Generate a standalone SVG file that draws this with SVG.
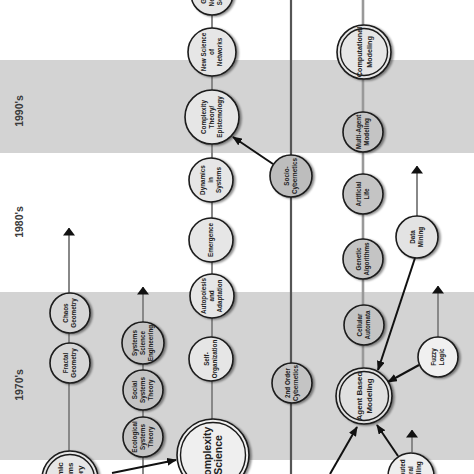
<svg xmlns="http://www.w3.org/2000/svg" width="474" height="474" viewBox="0 0 474 474">
<defs>
<style>
.band{fill:#d3d3d3}
.dec{font-family:"Liberation Sans",Arial,sans-serif;font-weight:bold;font-size:10.5px;fill:#3a3a3a;text-anchor:middle}
.n{stroke:#1a1a1a;stroke-width:1.6;filter:url(#sh)}
.lt{fill:#e6e6e6}
.md{fill:#d6d6d6}
.dk{fill:#c4c4c4}
.ring{fill:none;stroke:#1a1a1a;stroke-width:1.4}
.t{font-family:"Liberation Sans",Arial,sans-serif;font-weight:bold;font-size:6.3px;fill:#222;text-anchor:middle}
.col{fill:none;stroke:#888;stroke-width:2}
.arr{fill:none;stroke:#111;stroke-width:2}
</style>
<filter id="sh" x="-30%" y="-30%" width="160%" height="160%">
<feDropShadow dx="2" dy="1" stdDeviation="1.3" flood-color="#000" flood-opacity="0.45"/>
</filter>
<marker id="ah" viewBox="0 0 10 8" refX="9" refY="4" markerWidth="10" markerHeight="8" markerUnits="userSpaceOnUse" orient="auto">
<path d="M0,0 L10,4 L0,8 z" fill="#111"/>
</marker>
<marker id="up" viewBox="0 0 8 12" refX="7.5" refY="6" markerWidth="8" markerHeight="12" markerUnits="userSpaceOnUse" orient="auto">
<path d="M0,0 L8,6 L0,12 z" fill="#111"/>
</marker>
</defs>
<rect width="474" height="474" fill="#fff"/>
<rect class="band" x="0" y="60" width="474" height="93"/>
<rect class="band" x="0" y="292" width="474" height="168"/>
<text class="dec" transform="translate(23,111) rotate(-90)">1990's</text>
<text class="dec" transform="translate(23,222) rotate(-90)">1980's</text>
<text class="dec" transform="translate(23,385) rotate(-90)">1970's</text>

<g id="connectors">
<path class="col" d="M69,474 V228" marker-end="url(#up)"/>
<path class="col" d="M143,474 V287" marker-end="url(#up)"/>
<path class="col" d="M212,0 V474"/>
<path d="M291,0 V474" fill="none" stroke="#555" stroke-width="2.2"/>
<path d="M363,0 V396" fill="none" stroke="#999" stroke-width="2.6"/>
<path class="col" d="M417,216 V166" marker-end="url(#up)"/>
<path class="col" d="M438,337 V286" marker-end="url(#up)"/>
<path class="col" d="M412,452 V430" marker-end="url(#up)"/>
<path class="arr" d="M273,164 L233,137" marker-end="url(#ah)"/>
<path class="arr" d="M415,258 L378,370" marker-end="url(#ah)"/>
<path class="arr" d="M419,365 L388,382" marker-end="url(#ah)"/>
<path class="arr" d="M330,474 L357,427" marker-end="url(#ah)"/>
<path class="arr" d="M398,456 L377,425" marker-end="url(#ah)"/>
<path class="arr" d="M112,473 L176,460" marker-end="url(#ah)"/>
</g>

<g id="global-network-society">
<circle class="n lt" cx="212" cy="-6" r="21"/>
<text class="t" transform="translate(212,-6) rotate(-90)"><tspan x="0" y="-6">Global</tspan><tspan x="0" y="2.2">Network</tspan><tspan x="0" y="10.4">Society</tspan></text>
</g>
<g id="new-science-of-networks">
<circle class="n lt" cx="212" cy="52" r="24"/>
<text class="t" transform="translate(212,52) rotate(-90)"><tspan x="0" y="-6">New Science</tspan><tspan x="0" y="2.2">of</tspan><tspan x="0" y="10.4">Networks</tspan></text>
</g>
<g id="complexity-theory">
<circle class="n lt" cx="212" cy="117" r="27"/>
<text class="t" transform="translate(212,117) rotate(-90)"><tspan x="0" y="-6">Complexity</tspan><tspan x="0" y="2.2">Theory/</tspan><tspan x="0" y="10.4">Epistemology</tspan></text>
</g>
<g id="dynamics-in-systems">
<circle class="n lt" cx="211" cy="180" r="22"/>
<text class="t" transform="translate(211,180) rotate(-90)"><tspan x="0" y="-6">Dynamics</tspan><tspan x="0" y="2.2">in</tspan><tspan x="0" y="10.4">Systems</tspan></text>
</g>
<g id="emergence">
<circle class="n lt" cx="211" cy="240" r="22"/>
<text class="t" transform="translate(211,240) rotate(-90)"><tspan x="0" y="2.2">Emergence</tspan></text>
</g>
<g id="autopoiesis">
<circle class="n lt" cx="212" cy="296" r="22"/>
<text class="t" transform="translate(212,296) rotate(-90)"><tspan x="0" y="-6">Autopoiesis</tspan><tspan x="0" y="2.2">and</tspan><tspan x="0" y="10.4">Adaptation</tspan></text>
</g>
<g id="self-organization">
<circle class="n lt" cx="211" cy="359" r="22"/>
<text class="t" transform="translate(211,359) rotate(-90)"><tspan x="0" y="-1.8">Self-</tspan><tspan x="0" y="6.4">Organization</tspan></text>
</g>
<g id="complexity-science">
<circle class="n" fill="#efefef" cx="213" cy="455" r="36"/>
<circle class="ring" cx="213" cy="455" r="32.5"/>
<text class="t" style="font-size:10.5px" transform="translate(213,455) rotate(-90)"><tspan x="0" y="-2">Complexity</tspan><tspan x="0" y="9">Science</tspan></text>
</g>

<g id="chaos-geometry">
<circle class="n md" cx="70" cy="313" r="20"/>
<text class="t" transform="translate(70,313) rotate(-90)"><tspan x="0" y="-1.8">Chaos</tspan><tspan x="0" y="6.4">Geometry</tspan></text>
</g>
<g id="fractal-geometry">
<circle class="n md" cx="70" cy="363" r="20"/>
<text class="t" transform="translate(70,363) rotate(-90)"><tspan x="0" y="-1.8">Fractal</tspan><tspan x="0" y="6.4">Geometry</tspan></text>
</g>
<g id="dynamic-systems-theory">
<circle class="n lt" cx="70" cy="479" r="28"/>
<circle class="ring" cx="70" cy="479" r="24.5"/>
<text class="t" style="font-size:8px" transform="translate(70,479) rotate(-90)"><tspan x="0" y="-7">Dynamic</tspan><tspan x="0" y="3">Systems</tspan><tspan x="0" y="13">Theory</tspan></text>
</g>

<g id="systems-science-engineering">
<circle class="n dk" cx="143" cy="343" r="21"/>
<text class="t" transform="translate(143,343) rotate(-90)"><tspan x="0" y="-6">Systems</tspan><tspan x="0" y="2.2">Science</tspan><tspan x="0" y="10.4">Engineering</tspan></text>
</g>
<g id="social-systems-theory">
<circle class="n dk" cx="143" cy="390" r="20"/>
<text class="t" transform="translate(143,390) rotate(-90)"><tspan x="0" y="-6">Social</tspan><tspan x="0" y="2.2">Systems</tspan><tspan x="0" y="10.4">Theory</tspan></text>
</g>
<g id="ecological-systems-theory">
<circle class="n dk" cx="143" cy="437" r="20"/>
<text class="t" transform="translate(143,437) rotate(-90)"><tspan x="0" y="-6">Ecological</tspan><tspan x="0" y="2.2">Systems</tspan><tspan x="0" y="10.4">Theory</tspan></text>
</g>

<g id="socio-cybernetics">
<circle class="n" fill="#bdbdbd" cx="291" cy="176" r="21"/>
<text class="t" transform="translate(291,176) rotate(-90)"><tspan x="0" y="-1.8">Socio-</tspan><tspan x="0" y="6.4">Cybernetics</tspan></text>
</g>
<g id="second-order-cybernetics">
<circle class="n dk" cx="292" cy="383" r="20"/>
<text class="t" transform="translate(292,383) rotate(-90)"><tspan x="0" y="-1.8">2nd Order</tspan><tspan x="0" y="6.4">Cybernetics</tspan></text>
</g>

<g id="computational-modeling">
<circle class="n lt" cx="364" cy="52" r="27"/>
<circle class="ring" cx="364" cy="52" r="23.5"/>
<text class="t" style="font-size:7.2px" transform="translate(364,52) rotate(-90)"><tspan x="0" y="-2">Computational</tspan><tspan x="0" y="7.5">Modeling</tspan></text>
</g>
<g id="multi-agent-modeling">
<circle class="n dk" cx="363" cy="132" r="20"/>
<text class="t" transform="translate(363,132) rotate(-90)"><tspan x="0" y="-1.8">Multi-Agent</tspan><tspan x="0" y="6.4">Modeling</tspan></text>
</g>
<g id="artificial-life">
<circle class="n dk" cx="363" cy="194" r="20"/>
<text class="t" transform="translate(363,194) rotate(-90)"><tspan x="0" y="-1.8">Artificial</tspan><tspan x="0" y="6.4">Life</tspan></text>
</g>
<g id="genetic-algorithms">
<circle class="n dk" cx="363" cy="259" r="20"/>
<text class="t" transform="translate(363,259) rotate(-90)"><tspan x="0" y="-1.8">Genetic</tspan><tspan x="0" y="6.4">Algorithms</tspan></text>
</g>
<g id="cellular-automata">
<circle class="n dk" cx="364" cy="325" r="20"/>
<text class="t" transform="translate(364,325) rotate(-90)"><tspan x="0" y="-1.8">Cellular</tspan><tspan x="0" y="6.4">Automata</tspan></text>
</g>
<g id="agent-based-modeling">
<circle class="n" fill="#e0e0e0" cx="364" cy="396" r="28"/>
<circle class="ring" cx="364" cy="396" r="24.5"/>
<text class="t" style="font-size:8px" transform="translate(364,396) rotate(-90)"><tspan x="0" y="-2">Agent Based</tspan><tspan x="0" y="8">Modeling</tspan></text>
</g>

<g id="data-mining">
<circle class="n" fill="#e3e3e3" cx="417" cy="237" r="21"/>
<text class="t" transform="translate(417,237) rotate(-90)"><tspan x="0" y="-1.8">Data</tspan><tspan x="0" y="6.4">Mining</tspan></text>
</g>
<g id="fuzzy-logic">
<circle class="n" fill="#f0f0f0" cx="438" cy="357" r="20"/>
<text class="t" transform="translate(438,357) rotate(-90)"><tspan x="0" y="-1.8">Fuzzy</tspan><tspan x="0" y="6.4">Logic</tspan></text>
</g>
<g id="distributed-neural-modelling">
<circle class="n" fill="#eeeeee" cx="411" cy="476" r="23"/>
<text class="t" transform="translate(411,476) rotate(-90)"><tspan x="0" y="-6">Distributed</tspan><tspan x="0" y="2.2">Neural</tspan><tspan x="0" y="10.4">Modelling</tspan></text>
</g>
</svg>
